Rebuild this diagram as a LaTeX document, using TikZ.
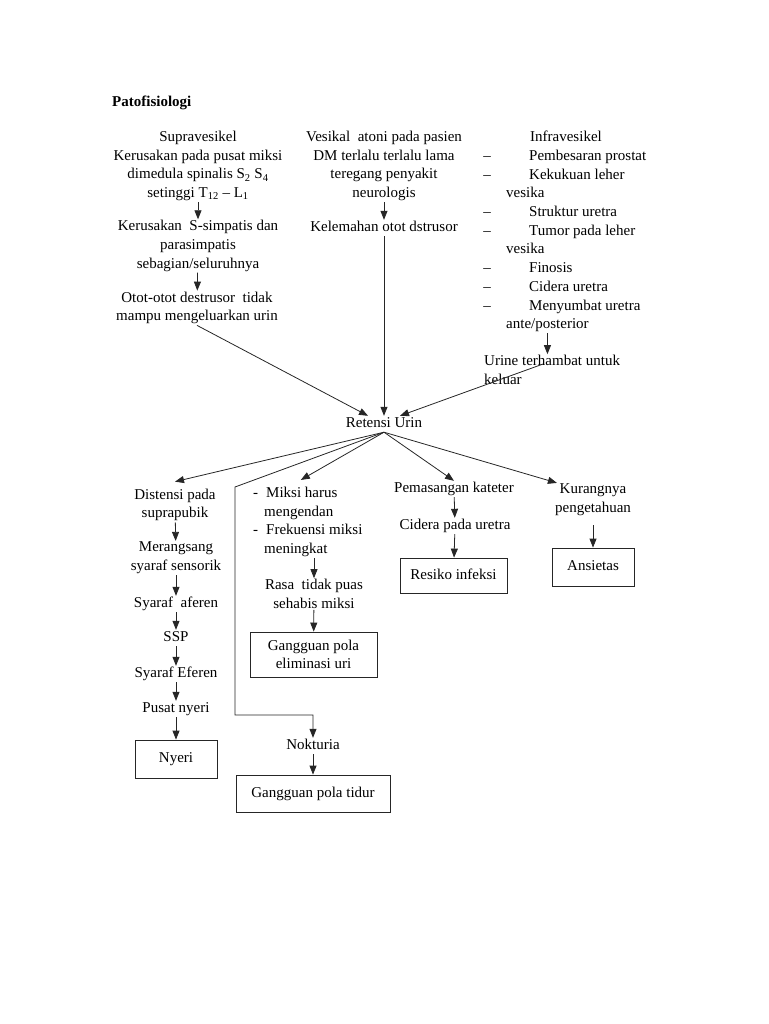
\documentclass[tikz,border=0pt]{standalone}
\usepackage{fontspec}
\setmainfont{Liberation Serif}
\usetikzlibrary{arrows.meta}

\begin{document}
\begin{tikzpicture}[
   x=1pt, y=-1pt,
   txt/.style={font=\fontsize{15}{18.7}\selectfont, align=center, inner sep=1pt},
   one/.style={txt, text height=10.5pt, text depth=3.5pt},
   item/.style={one, anchor=west},
   box/.style={txt, rectangle, draw=black!85, line width=0.8pt},
   onebox/.style={box, text height=10.5pt, text depth=3.5pt},
   arrow/.style={-{Triangle[length=9pt,width=7pt]}, line width=0.8pt, draw=black!85},
   link/.style={line width=0.8pt, draw=black!85}
]
\useasboundingbox (0,0) rectangle (768,1024);

% Title
\node[one, anchor=west, font=\fontsize{15}{18.7}\selectfont\bfseries] (title) at (111,103) {Patofisiologi};

% Supravesikel side
\node[txt] (supra) at (198,166) {Supravesikel\\Kerusakan pada pusat miksi\\dimedula spinalis S\textsubscript{2} S\textsubscript{4}\\setinggi T\textsubscript{12} -- L\textsubscript{1}};
\node[txt] (kerusakan) at (198,246) {Kerusakan\ \ S-simpatis dan\\parasimpatis\\sebagian/seluruhnya};
\node[txt] (otot) at (197,308) {Otot-otot destrusor\ \ tidak\\mampu mengeluarkan urin};

% Vesikal side
\node[txt] (vesikal) at (384,166) {Vesikal\ \ atoni pada pasien\\DM terlalu terlalu lama\\teregang penyakit\\neurologis};
\node[one] (kelemahan) at (384,228) {Kelemahan otot dstrusor};

% Infravesikel side
\node[one] (infra) at (566,138) {Infravesikel};
\node[one] (d1) at (487,157) {--};
\node[item] (i1) at (528,157) {Pembesaran prostat};
\node[one] (d2) at (487,176) {--};
\node[item] (i2) at (528,176) {Kekukuan leher};
\node[item] (i2b) at (505,194) {vesika};
\node[one] (d3) at (487,213) {--};
\node[item] (i3) at (528,213) {Struktur uretra};
\node[one] (d4) at (487,232) {--};
\node[item] (i4) at (528,232) {Tumor pada leher};
\node[item] (i4b) at (505,250) {vesika};
\node[one] (d5) at (487,269) {--};
\node[item] (i5) at (528,269) {Finosis};
\node[one] (d6) at (487,288) {--};
\node[item] (i6) at (528,288) {Cidera uretra};
\node[one] (d7) at (487,307) {--};
\node[item] (i7) at (528,307) {Menyumbat uretra};
\node[item] (ante) at (505,325) {ante/posterior};
\node[txt, align=left, anchor=west] (urine) at (483,370) {Urine terhambat untuk\\keluar};

% Centre
\node[one] (retensi) at (384,424) {Retensi Urin};

% Arrows into Retensi Urin
\draw[arrow] (supra) -- (kerusakan);
\draw[arrow] (kerusakan) -- (otot);
\draw[arrow] (otot.south) -- ([xshift=-16pt]retensi.north);
\draw[arrow] (vesikal) -- (kelemahan);
\draw[arrow] (kelemahan.south) -- (retensi.north);
\draw[arrow] (ante.south) -- (ante.south |- urine.north);
\draw[arrow] ([xshift=-9pt,yshift=6pt]urine.center) -- ([xshift=16pt]retensi.north);

% Left column
\node[txt] (distensi) at (175,505) {Distensi pada\\suprapubik};
\node[txt] (merangsang) at (176,558) {Merangsang\\syaraf sensorik};
\node[one] (aferen) at (176,604) {Syaraf\ \ aferen};
\node[one] (ssp) at (176,638) {SSP};
\node[one] (eferen) at (176,674) {Syaraf Eferen};
\node[one] (pusat) at (176,709) {Pusat nyeri};
\node[onebox, minimum width=82pt, minimum height=38pt] (nyeri) at (176,759) {Nyeri};

% Middle column
\node[txt, align=left, anchor=west] (miksi) at (252,522) {-\hspace{8pt}Miksi harus\\\hspace*{11pt}mengendan\\-\hspace{8pt}Frekuensi miksi\\\hspace*{11pt}meningkat};
\node[txt] (rasa) at (314,594) {Rasa\ \ tidak puas\\sehabis miksi};
\node[box, minimum width=127pt, minimum height=45pt] (eliminasi) at (313.5,654.5) {Gangguan pola\\eliminasi uri};
\node[one] (nokturia) at (313,746) {Nokturia};
\node[onebox, minimum width=154pt, minimum height=37pt] (tidur) at (313,793.5) {Gangguan pola tidur};
\coordinate (bend) at (235,487);
\coordinate (turn) at (313,715);

% Right columns
\node[one] (pemasangan) at (454,489) {Pemasangan kateter};
\node[one] (cidera) at (455,526) {Cidera pada uretra};
\node[onebox, minimum width=107pt, minimum height=35pt] (resiko) at (453.5,575.5) {Resiko infeksi};
\node[txt] (kurangnya) at (593,500) {Kurangnya\\pengetahuan};
\node[onebox, minimum width=82pt, minimum height=38pt] (ansietas) at (593,567) {Ansietas};

% Arrows out of Retensi Urin
\draw[arrow] (retensi.south) -- ([yshift=6pt]distensi.north);
\draw[arrow] (retensi.south) -- ([xshift=-7pt,yshift=6pt]miksi.north);
\draw[arrow] (retensi.south) -- (pemasangan.north);
\draw[arrow] (retensi.south) -- ([xshift=3pt]kurangnya.north west);
\draw[arrow] (retensi.south) -- (bend) |- (turn) -- (nokturia.north);

% Chains
\draw[arrow] (distensi) -- (merangsang);
\draw[arrow] (merangsang) -- (aferen);
\draw[arrow] (aferen) -- (ssp);
\draw[arrow] (ssp) -- (eferen);
\draw[arrow] (eferen) -- (pusat);
\draw[arrow] (pusat) -- (nyeri);
\draw[arrow] (rasa.north |- miksi.south) -- (rasa.north);
\draw[arrow] (rasa) -- (eliminasi);
\draw[arrow] (nokturia) -- (tidur);
\draw[arrow] (pemasangan) -- (cidera);
\draw[arrow] (cidera) -- (resiko);
\draw[arrow] ([yshift=-8pt]kurangnya.south) -- (ansietas);

\end{tikzpicture}
\end{document}
